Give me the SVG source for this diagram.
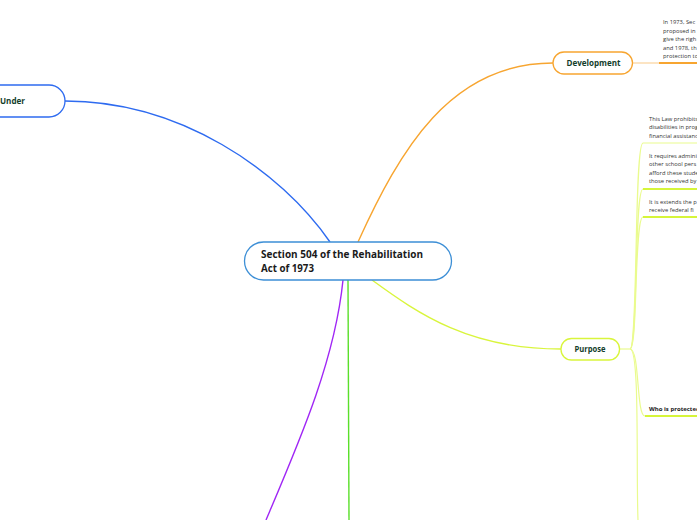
<svg xmlns="http://www.w3.org/2000/svg" width="697" height="520" viewBox="0 0 697 520">
<style>
.node{fill:#ffffff;stroke-width:1.3}
.lbl{font-family:"Open Sans","Noto Sans","Liberation Sans",sans-serif;font-weight:700;fill:#133d2b}
.main{font-family:"Open Sans","Noto Sans","Liberation Sans",sans-serif;font-weight:700;fill:#1a1a1a;font-size:10.5px}
.small{font-family:"Open Sans","Noto Sans","Liberation Sans",sans-serif;fill:#333333;font-size:5.8px}
.conn{fill:none;stroke-width:1.4}
.br{fill:none;stroke:#eafb8e;stroke-width:1.2}
.ul{fill:none;stroke:#d6f53a;stroke-width:2}
</style>
<rect width="697" height="520" fill="#ffffff"/>
<g id="connectors">
<path class="conn" d="M65,101 C180,101 280,170 330,242" stroke="#2e6bf0"/>
<path class="conn" d="M358,242 C400,150 450,63 553,63" stroke="#f7a530"/>
<path class="conn" d="M372,280 C420,315 470,349 561,349" stroke="#d9f53c"/>
<path class="conn" d="M343,280 C335,360 300,440 266,520" stroke="#a027f5"/>
<path class="conn" d="M348,280 L349,520" stroke="#5ae02a" stroke-width="1.6"/>
<path fill="none" stroke="#f9c987" stroke-width="1" d="M632,63 L659,63"/>
<path fill="none" stroke="#f7a530" stroke-width="2" d="M659,63 L697,63"/>
<path class="br" d="M619,349 L630,349"/>
<path class="br" d="M630,349 C638,349 634,143 643,143 L697,143"/>
<path class="br" d="M630,349 C638,349 634,189 643,189"/>
<path class="br" d="M630,349 C638,349 634,217 643,217"/>
<path class="br" d="M630,349 C640,349 636,416 645,416"/>
<path class="br" d="M630,349 C640,349 636,470 638,520"/>
<path class="ul" d="M643,189 L697,189"/>
<path class="ul" d="M643,217 L697,217"/>
<path class="ul" d="M645,416 L697,416"/>
</g>
<g id="central">
<rect class="node" x="244.5" y="242" width="207" height="38" rx="19" stroke="#3d8fd6"/>
<text class="main" x="261" y="258" textLength="162" lengthAdjust="spacingAndGlyphs">Section 504 of the Rehabilitation</text>
<text class="main" x="261" y="271.5" textLength="53" lengthAdjust="spacingAndGlyphs">Act of 1973</text>
</g>
<g id="under">
<rect class="node" x="-40" y="85" width="105" height="32" rx="16" stroke="#2e6bf0"/>
<text class="lbl" x="0" y="104" font-size="8.5" textLength="25" lengthAdjust="spacingAndGlyphs">Under</text>
</g>
<g id="development">
<rect class="node" x="553" y="52" width="79.5" height="22" rx="11" stroke="#f7a530"/>
<text class="lbl" x="566.5" y="66" font-size="8.5" textLength="54" lengthAdjust="spacingAndGlyphs">Development</text>
<g class="small">
<text x="663" y="24">In 1973, Sec</text>
<text x="663" y="32.5">proposed in</text>
<text x="663" y="41">give the righ</text>
<text x="663" y="49.5">and 1978, th</text>
<text x="663" y="58">protection to</text>
</g>
</g>
<g id="purpose">
<rect class="node" x="561" y="338.5" width="58.5" height="21.5" rx="10.5" stroke="#d9f53c"/>
<text class="lbl" x="574.5" y="352" font-size="8.5" textLength="31" lengthAdjust="spacingAndGlyphs">Purpose</text>
</g>
<g id="item1" class="small">
<text x="649" y="120.5">This Law prohibits</text>
<text x="649" y="129">disabilities in progr</text>
<text x="649" y="137.5">financial assistanc</text>
</g>
<g id="item2" class="small">
<text x="649" y="157.5">It requires admini</text>
<text x="649" y="166">other school pers</text>
<text x="649" y="174.5">afford these stude</text>
<text x="649" y="183">those received by</text>
</g>
<g id="item3" class="small">
<text x="649" y="203.5">It is extends the p</text>
<text x="649" y="211.5">receive federal fi</text>
</g>
<g id="who">
<text x="649" y="411" font-family="Open Sans, Noto Sans, Liberation Sans, sans-serif" font-weight="700" font-size="6" fill="#1a1a1a">Who is protected</text>
</g>
</svg>
